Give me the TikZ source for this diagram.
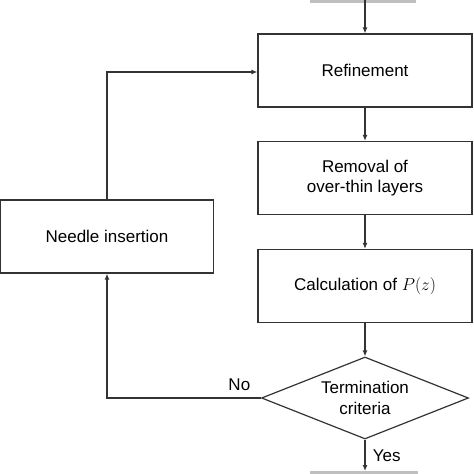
\documentclass[tikz,border=0pt]{standalone}
\usepackage{fontspec}
\setmainfont{Liberation Sans}
\usetikzlibrary{shapes.geometric,arrows.meta}

\begin{document}
\begin{tikzpicture}[x=1pt, y=-1pt,
        every node/.style={font=\fontsize{17}{20.5}\selectfont},
        flowbox/.style={draw=black!80, line width=1.2pt, minimum width=214pt, minimum height=73pt, align=center, inner sep=0pt},
        decide/.style={draw=black!80, line width=1.2pt, shape=diamond, aspect=2.5, minimum width=207pt, minimum height=82pt, align=center, inner sep=0pt},
        link/.style={draw=black!80, line width=1.2pt, -{Latex[length=6pt,width=5pt]}}]
        \useasboundingbox (0, 0) rectangle (474, 474);

        % cut-off boxes above and below
        \fill[black!25] (310, 0) rectangle (416, 3);
        \fill[black!25] (310, 471) rectangle (418, 474);

        \node[flowbox] (refine) at (365, 70.5) {Refinement};
        \node[flowbox] (removal) at (365, 178) {Removal of\\over-thin layers};
        \node[flowbox] (calc) at (365, 286) {Calculation of $P(z)$};
        \node[decide] (crit) at (365, 398) {Termination\\criteria};
        \node[flowbox, minimum width=213pt] (needle) at (107, 236.5) {Needle insertion};

        \coordinate (in) at (365, 0);
        \coordinate (out) at (365, 471);

        \draw[link] (in) -- (refine);
        \draw[link] (refine) -- (removal);
        \draw[link] (removal) -- (calc);
        \draw[link] (calc) -- (crit);
        \draw[link] (crit) -- node[right, xshift=4pt] (yes) {Yes} (out);
        \draw[link] (crit.west) -- node[pos=0.14, above, yshift=3pt] (no) {No} (needle.south |- crit.west) -- (needle.south);
        \draw[link] (needle.north) -- (needle.north |- 0, 72) -- (refine.west |- 0, 72);
    \end{tikzpicture}
\end{document}
